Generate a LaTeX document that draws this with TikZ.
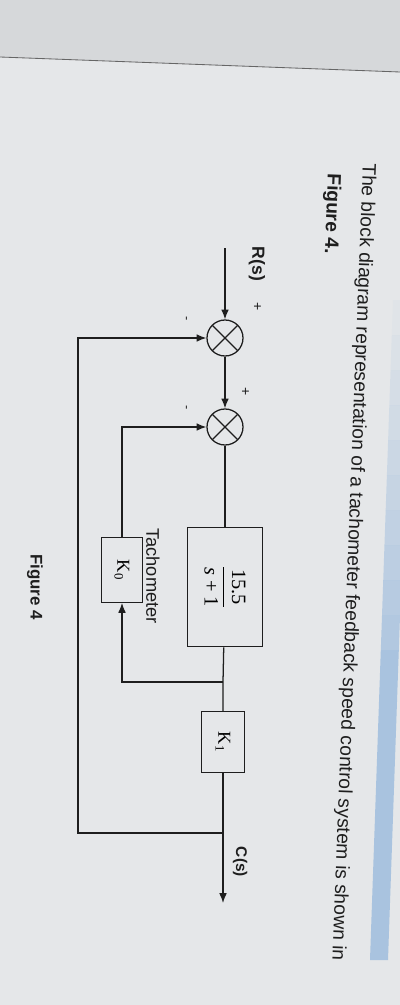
\documentclass[tikz,border=0pt]{standalone}
\usepackage{fontspec}
\setmainfont{Liberation Sans}
\newfontfamily\seriffont{Liberation Serif}
\usetikzlibrary{arrows.meta}
\definecolor{bg}{HTML}{E5E7E9}
\definecolor{topgray}{HTML}{D6D8DA}
\definecolor{barblue}{HTML}{A9C3DF}
\definecolor{ink}{HTML}{1E1E1E}
\tikzset{
  sumj/.style={circle, draw=ink, line width=0.9pt, minimum size=25.6pt, inner sep=0pt,
    path picture={\draw[ink, line width=0.9pt] (path picture bounding box.north west) -- (path picture bounding box.south east)
      (path picture bounding box.north east) -- (path picture bounding box.south west);}},
  blk/.style={draw=ink, line width=0.8pt, fill=bg, inner sep=0pt},
  lbl/.style={text=ink, inner sep=0pt},
  conn/.style={draw=ink, line width=0.9pt},
  arr/.style={conn, -{Latex[length=7pt,width=5.5pt]}}
}
\begin{document}
\begin{tikzpicture}[x=0.025cm, y=0.025cm, rotate=-90, transform shape]
\useasboundingbox (0,0) rectangle (1005,400);
% background (photo of a screen)
\fill[bg] (0,0) rectangle (1005,400);
\fill[topgray] (0,0) -- (57,0) -- (72,400) -- (0,400) -- cycle;
\draw[line width=0.6pt, black!60] (57,0) -- (72,400);
\foreach \i in {0,...,9} {
  \pgfmathsetmacro{\op}{0.08+0.085*\i}
  \pgfmathsetmacro{\xa}{300+35*\i}
  \pgfmathsetmacro{\xb}{335+35*\i}
  \pgfmathsetmacro{\ya}{393-23*(\xa-300)/660}
  \pgfmathsetmacro{\yb}{393-23*(\xb-300)/660}
  \fill[barblue, opacity=\op] (\xa,\ya) -- (\xb,\yb) -- (\xb,\yb+18) -- (\xa,\ya+18) -- cycle;
}
\fill[barblue] (650,380.8) -- (960,370) -- (960,388) -- (650,398.8) -- cycle;
% header text
\node[lbl, anchor=base west, rotate=-2.2, font=\fontsize{13.7}{16}\selectfont] (t1) at (163,363)
  {The block diagram representation of a tachometer feedback speed control system is shown in};
\node[lbl, anchor=base west, rotate=-2.2, font=\fontsize{13.7}{16}\selectfont\bfseries] (t2) at (173,328) {Figure 4.};
% summing junctions
\node[sumj] (s1) at (338,225) {};
\node[sumj] (s2) at (427,225) {};
\coordinate (in) at (248,225);
% blocks
\node[blk, minimum width=85pt, minimum height=53pt] (G) at (587,225)
  {\seriffont\fontsize{14.5}{16}\selectfont$\displaystyle\frac{\mbox{15.5}}{\mbox{\itshape s\upshape\ + 1}}$};
\node[blk, minimum width=43pt, minimum height=30pt] (K1) at (742,223)
  {\seriffont\fontsize{13}{15}\selectfont K\textsubscript{1}};
\node[blk, minimum width=46pt, minimum height=29pt] (K0) at (570,122)
  {\seriffont\fontsize{13}{15}\selectfont K\textsubscript{0}};
\coordinate (br) at (682,223);
\coordinate (tap) at (833,223);
\coordinate (out) at (903,223);
\coordinate (o1) at (833,78);
\coordinate (o2) at (338,78);
\coordinate (i1) at (682,122);
\coordinate (i2) at (427,122);
% connectors
\draw[arr] (in) -- (s1);
\draw[arr] (s1) -- (s2);
\draw[conn] (s2) -- (G);
\draw[conn] (G) -- (br) -- (K1);
\draw[arr] (K1) -- (out);
\draw[arr] (tap) -- (o1) -- (o2) -- (s1);
\draw[arr] (br) -- (i1) -- (K0);
\draw[arr] (K0) -- (i2) -- (s2);
% labels
\node[lbl, font=\fontsize{12.5}{14}\selectfont\bfseries] (R) at (264,257) {R(s)};
\node[lbl, font=\fontsize{11}{13}\selectfont\bfseries] (C) at (862,240) {C(s)};
\node[lbl, font=\fontsize{10}{12}\selectfont] (p1) at (307,257) {+};
\node[lbl, font=\fontsize{10}{12}\selectfont] (p2) at (392,245) {+};
\node[lbl, font=\fontsize{9}{11}\selectfont] (m1) at (319,185) {-};
\node[lbl, font=\fontsize{9}{11}\selectfont] (m2) at (408,185) {-};
\node[lbl, font=\fontsize{13}{15}\selectfont] (tach) at (576,153) {Tachometer};
\node[lbl, font=\fontsize{12}{14}\selectfont\bfseries] (cap) at (587,35) {Figure 4};
\end{tikzpicture}
\end{document}
